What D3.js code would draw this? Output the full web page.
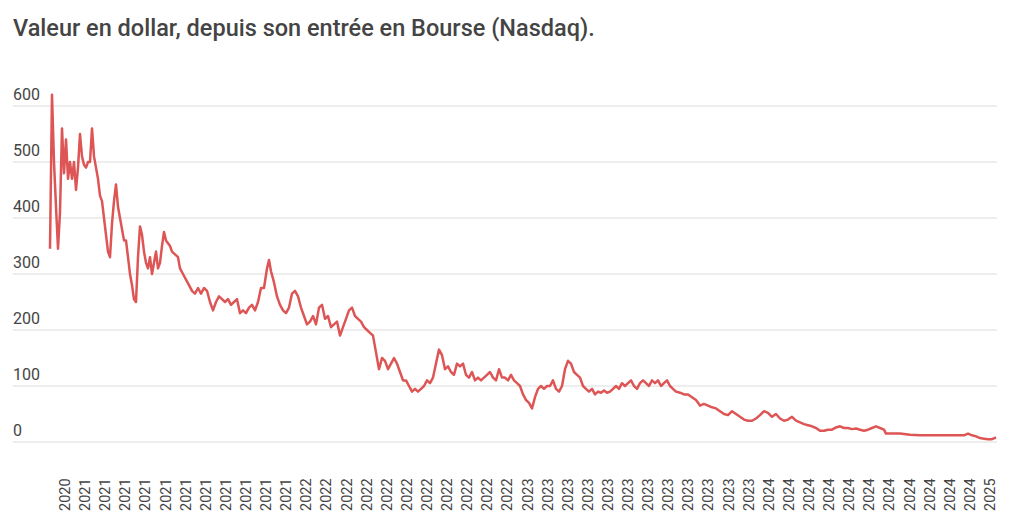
<!DOCTYPE html>
<html><head><meta charset="utf-8">
<script src="https://cdn.jsdelivr.net/npm/d3@7"></script>
<style>body{margin:0;background:#fff;font-family:Roboto,sans-serif}</style>
</head><body><svg id="c" width="1024" height="512"></svg>
<script>
const title = "Valeur en dollar, depuis son entrée en Bourse (Nasdaq).";
const yTicks = [0, 100, 200, 300, 400, 500, 600];
const xLabels = ["2020",
  "2021","2021","2021","2021","2021","2021","2021","2021","2021","2021","2021",
  "2022","2022","2022","2022","2022","2022","2022","2022","2022","2022","2022",
  "2023","2023","2023","2023","2023","2023","2023","2023","2023","2023","2023","2023",
  "2024","2024","2024","2024","2024","2024","2024","2024","2024","2024","2024",
  "2025"];
// session index (arbitrary units) and closing value
const session = [0,2,4,6,8,10,12,14,16,18,20,22,24,26,28,30,32,34,36,38,40,42,44,46,48,50,52,54,56,58,60,62,64,66,68,70,72,74,76,78,80,82,84,86,88,90,92,94,96,98,100,102,104,106,108,110,112,114,116,118,120,122,125,128,130,133,136,139,142,145,148,151,154,157,160,163,166,169,172,175,178,181,184,187,190,193,196,199,202,205,208,211,214,217,219,221,224,227,230,233,236,239,242,245,248,251,254,257,260,263,266,269,272,275,278,281,284,287,290,293,296,299,302,305,308,311,314,317,320,323,326,329,332,335,338,341,344,347,350,353,356,359,362,365,368,371,374,377,380,383,386,389,392,395,398,401,404,407,410,413,416,419,422,425,428,431,434,437,440,443,446,449,452,455,458,461,464,467,470,473,476,479,482,485,488,491,494,497,500,503,506,509,512,515,518,521,524,527,530,533,536,539,542,545,548,551,554,557,560,563,566,569,572,575,578,581,584,587,590,593,596,599,602,605,608,611,614,617,620,623,626,630,634,638,642,646,650,654,658,662,666,670,674,678,682,686,690,694,698,702,706,710,714,718,722,726,730,734,738,742,746,750,754,758,762,766,770,774,778,782,786,790,794,798,802,806,810,814,818,822,826,830,834,836,840,850,860,870,880,890,900,910,914,918,922,926,930,934,938,942,946];
const value = [345,620,500,420,345,410,560,480,540,470,500,470,500,450,490,550,510,495,490,500,500,560,510,490,470,440,430,400,370,340,330,390,430,460,420,400,380,360,360,330,300,280,255,250,330,385,370,340,320,310,330,300,320,340,310,320,350,375,360,355,350,340,335,330,310,300,290,280,270,265,275,265,275,270,250,235,250,260,255,250,255,245,250,255,230,235,230,240,245,235,250,275,275,310,325,305,285,260,245,235,230,240,265,270,260,240,225,210,215,225,210,240,245,220,225,205,210,215,190,205,220,235,240,225,220,215,205,200,195,190,160,130,150,145,130,140,150,140,125,110,110,100,90,95,90,95,100,110,105,115,140,165,155,130,135,125,120,140,135,140,120,115,125,110,115,110,115,120,125,115,110,130,115,115,110,120,110,105,100,85,75,70,60,80,95,100,95,100,100,110,95,90,100,130,145,140,125,120,115,100,95,90,95,85,90,88,92,88,90,95,100,95,105,100,105,110,100,95,105,110,105,100,110,105,110,100,105,110,100,95,90,88,85,85,80,75,65,68,65,62,60,55,50,48,55,50,45,40,38,38,42,48,55,52,45,50,42,38,40,45,38,35,32,30,28,25,20,20,22,22,26,28,25,25,23,24,22,20,22,25,28,25,22,15,15,15,13,12,12,12,12,12,12,15,12,10,7,6,5,5,8,7];

const svg = d3.select("#c");
const x = d3.scaleLinear().domain([0, d3.max(session)]).range([50, 996]);
const y = d3.scaleLinear().domain([0, 600]).range([442, 106]);
const xl = d3.scalePoint().domain(d3.range(xLabels.length)).range([65, 990]);

svg.append("text").attr("x", 13).attr("y", 36).attr("fill", "#444")
  .attr("font-size", 23.5).attr("font-weight", 500).text(title);

const gy = svg.append("g");
gy.selectAll("line").data(yTicks).join("line")
  .attr("x1", 13).attr("x2", 997).attr("y1", d => y(d)).attr("y2", d => y(d))
  .attr("stroke", "#dddddd").attr("stroke-width", 1);
gy.selectAll("text").data(yTicks).join("text")
  .attr("x", 13).attr("y", d => y(d) - 6).attr("fill", "#444").attr("font-size", 16)
  .text(d => d);

svg.append("g").selectAll("text").data(xLabels).join("text")
  .attr("transform", (d, i) => `translate(${xl(i) + 5},511) rotate(-90)`)
  .attr("fill", "#444").attr("font-size", 14.5).text(d => d);

svg.append("path").datum(d3.zip(session, value))
  .attr("fill", "none").attr("stroke", "#dd5555").attr("stroke-width", 2.5)
  .attr("stroke-linejoin", "round")
  .attr("d", d3.line().x(d => x(d[0])).y(d => y(d[1])));
</script></body></html>
